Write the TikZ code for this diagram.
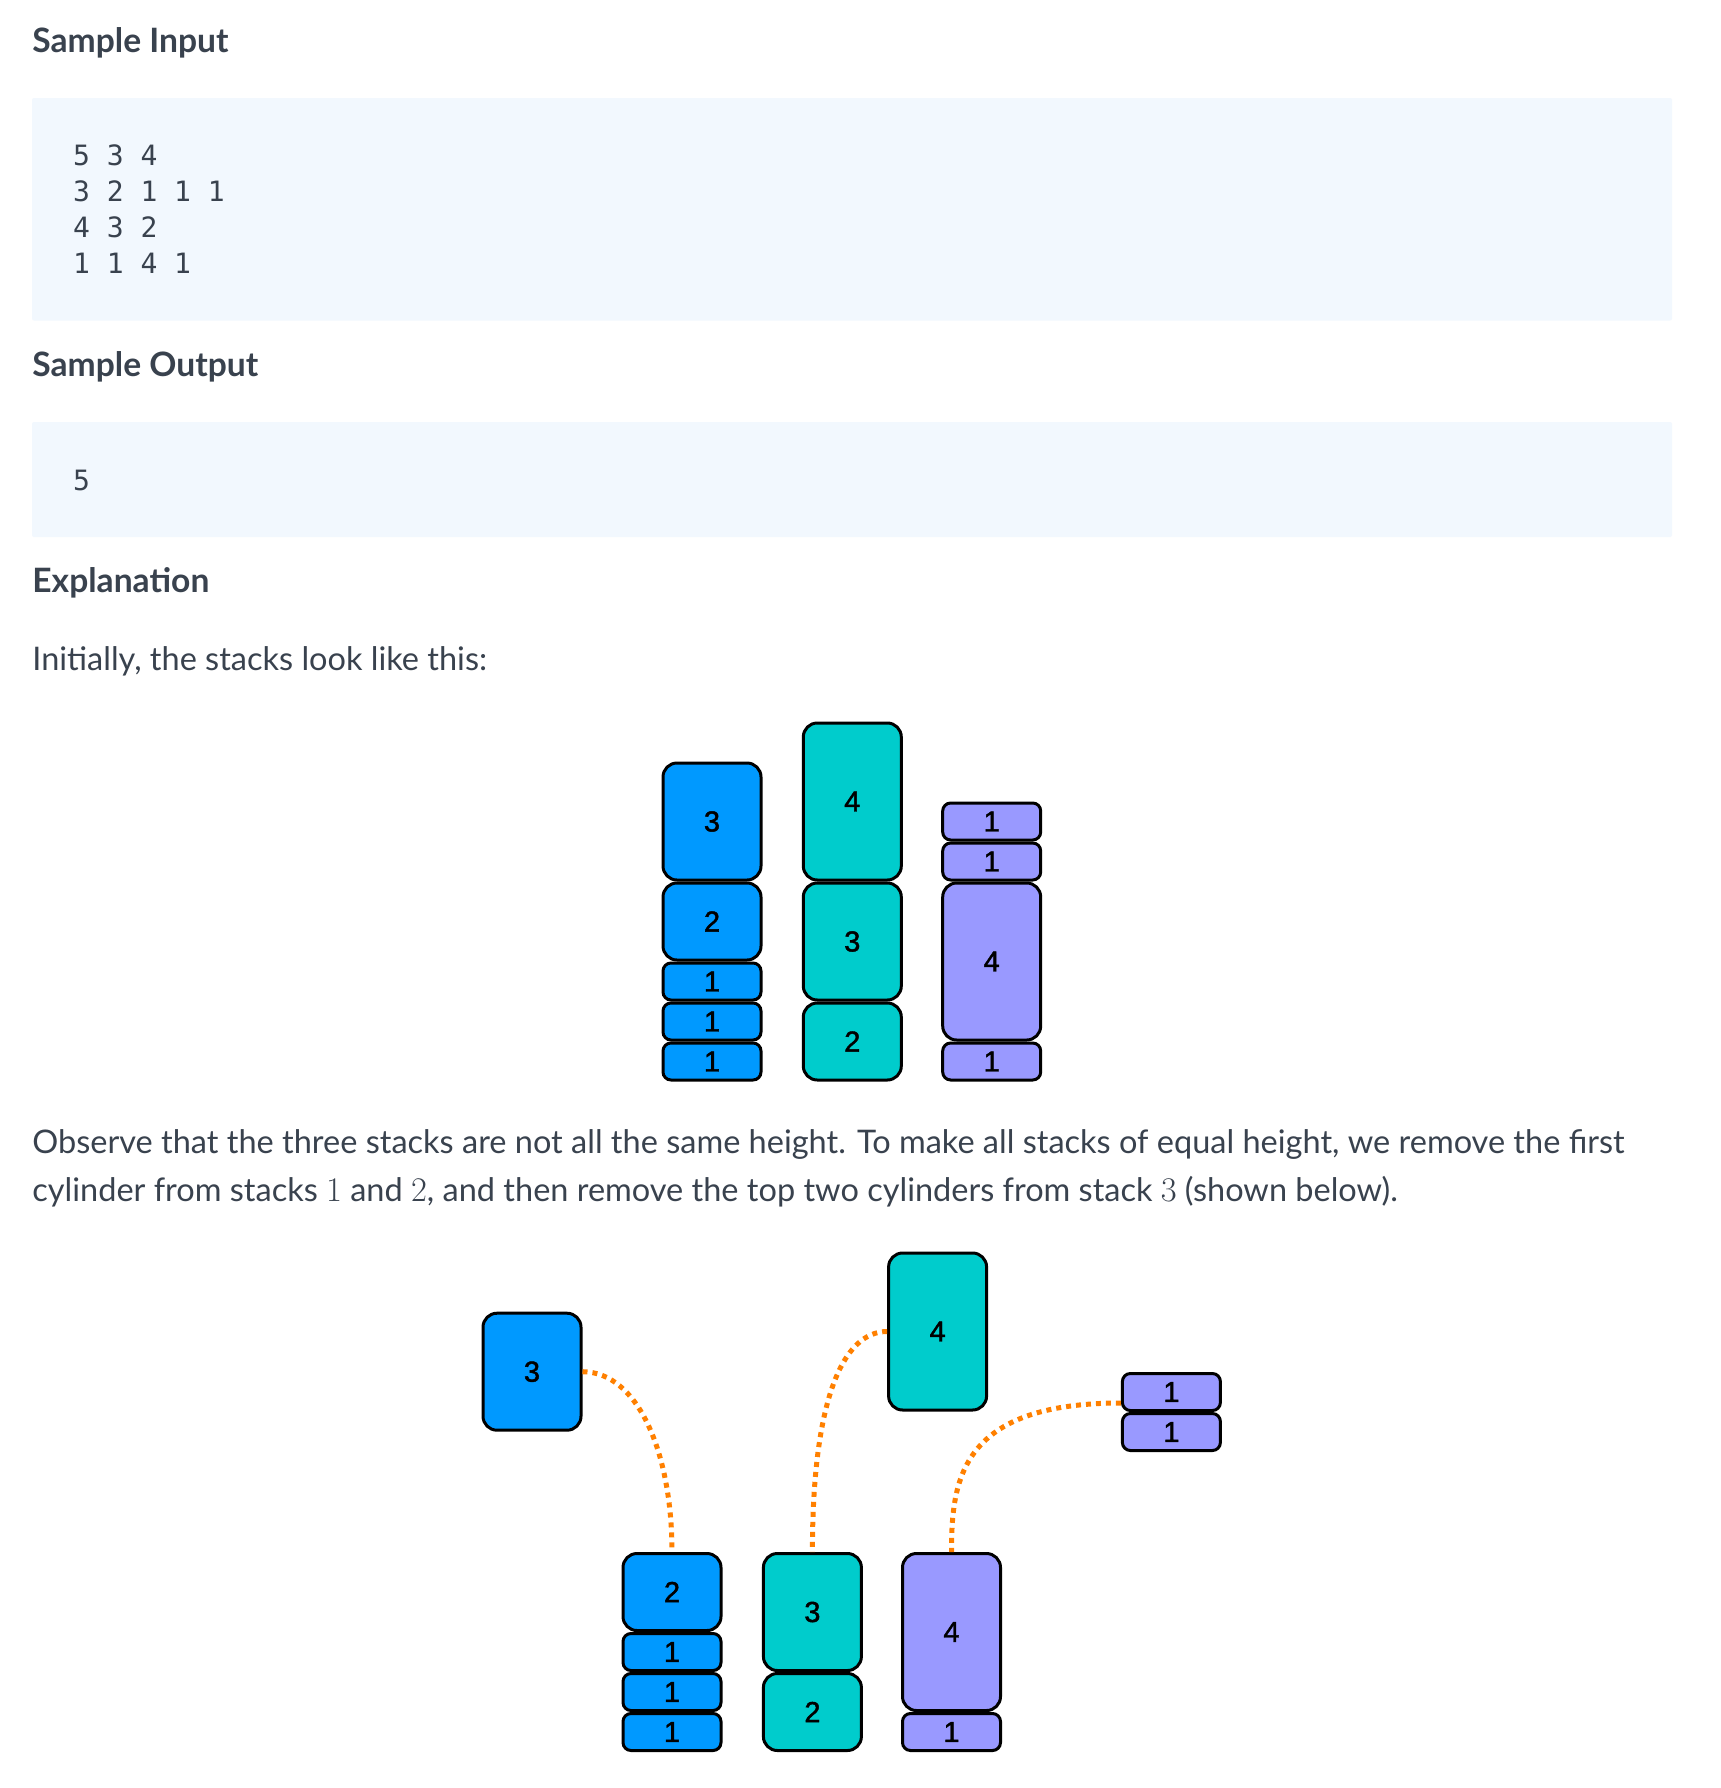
\documentclass[tikz,border=0pt]{standalone}
\usepackage{fontspec}
\setmainfont{Lato}
\setmonofont{DejaVu Sans Mono}
\newfontfamily\labfont[FakeBold=1.5]{Liberation Sans}
\definecolor{ctext}{HTML}{39424E}
\definecolor{ccode}{HTML}{F2F8FE}
\definecolor{cblue}{HTML}{0099FF}
\definecolor{cteal}{HTML}{00CCCC}
\definecolor{cpurp}{HTML}{9999FF}
\definecolor{corange}{HTML}{FF8000}
\newcommand\mnum[1]{{\fontsize{19pt}{19pt}\selectfont$#1$}}
\begin{document}
\begin{tikzpicture}[x=0.5pt,y=-0.5pt,
  heading/.style={anchor=base west,inner sep=0pt,text=ctext,font=\fontsize{16.8pt}{19pt}\selectfont\bfseries},
  body/.style={anchor=base west,inner sep=0pt,text=ctext,font=\fontsize{16.25pt}{19pt}\selectfont},
  code/.style={anchor=base west,inner sep=0pt,text=ctext,font=\fontsize{14pt}{17pt}\selectfont\ttfamily},
  codebg/.style={fill=ccode,draw=none,rounded corners=1pt},
  cyl/.style={draw=black,line width=1.5pt,inner sep=0pt,minimum width=49pt,
    font=\labfont\fontsize{14.5pt}{16pt}\selectfont,text=black},
  u1/.style={cyl,rounded corners=4pt,minimum height=18.5pt},
  u2/.style={cyl,rounded corners=7pt,minimum height=38.5pt},
  u3/.style={cyl,rounded corners=7pt,minimum height=58.5pt},
  u4/.style={cyl,rounded corners=7pt,minimum height=78.5pt},
  blu/.style={fill=cblue},
  tea/.style={fill=cteal},
  pur/.style={fill=cpurp},
  moved/.style={draw=corange,line width=2.5pt,dash pattern=on 2.5pt off 2.5pt}
]
\useasboundingbox (0,0) rectangle (1720,1788);
\fill[white] (0,0) rectangle (1720,1788);

% Sample Input
\node[heading] (hin) at (32,52.5) {Sample Input};
\fill[codebg] (32,98) rectangle (1672,320.5);
\node[code] (l1) at (72.7,165.7) {5 3 4};
\node[code] (l2) at (72.7,201.7) {3 2 1 1 1};
\node[code] (l3) at (72.7,237.5) {4 3 2};
\node[code] (l4) at (72.7,273.3) {1 1 4 1};

% Sample Output
\node[heading] (hout) at (32,376) {Sample Output};
\fill[codebg] (32,422) rectangle (1672,537);
\node[code] (o1) at (72.7,490.7) {5};

% Explanation
\node[heading] (hexp) at (32,592) {Explanation};
\node[body] (t1) at (32,670) {Initially, the stacks look like this:};

% initial stacks
\node[u1,blu] (a1) at (712,1061.5) {1};
\node[u1,blu] (a2) at (712,1021.5) {1};
\node[u1,blu] (a3) at (712,981.5) {1};
\node[u2,blu] (a4) at (712,921.5) {2};
\node[u3,blu] (a5) at (712,821.5) {3};

\node[u2,tea] (b1) at (852.3,1041.5) {2};
\node[u3,tea] (b2) at (852.3,941.5) {3};
\node[u4,tea] (b3) at (852.3,801.5) {4};

\node[u1,pur] (c1) at (991.7,1061.5) {1};
\node[u4,pur] (c2) at (991.7,961.5) {4};
\node[u1,pur] (c3) at (991.7,861.5) {1};
\node[u1,pur] (c4) at (991.7,821.5) {1};

% paragraph
\node[body] (p1) at (32,1153) {Observe that the three stacks are not all the same height. To make all stacks of equal height, we remove the first};
\node[body] (p2) at (32,1201) {cylinder from stacks \mnum{1} and \mnum{2}, and then remove the top two cylinders from stack \mnum{3} (shown below).};

% final stacks
\node[u1,blu] (d1) at (672,1732) {1};
\node[u1,blu] (d2) at (672,1692) {1};
\node[u1,blu] (d3) at (672,1652) {1};
\node[u2,blu] (d4) at (672,1592) {2};

\node[u2,tea] (e1) at (812.4,1712) {2};
\node[u3,tea] (e2) at (812.4,1612) {3};

\node[u1,pur] (f1) at (951.5,1732) {1};
\node[u4,pur] (f2) at (951.5,1632) {4};

% removed cylinders
\node[u3,blu] (rb) at (532,1371.7) {3};
\node[u4,tea] (rt) at (937.6,1331.5) {4};
\node[u1,pur] (rp1) at (1171.4,1392) {1};
\node[u1,pur] (rp2) at (1171.4,1432) {1};

% dotted connectors
\draw[moved] (rb.east) .. controls +(55,0) and +(0,-100) .. (d4.north);
\draw[moved] (rt.west) .. controls +(-45,0) and +(0,-150) .. (e2.north);
\draw[moved] ([yshift=-5.5pt]rp1.west) .. controls +(-160,0) and +(0,-73) .. (f2.north);
\end{tikzpicture}
\end{document}
